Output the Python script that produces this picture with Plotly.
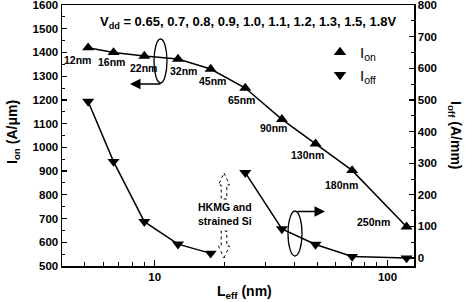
import math
import plotly.graph_objects as go

# ---- data ----
leff_nm = [5.18, 6.66, 9.03, 12.6, 17.4, 24.5, 35.2, 49.1, 70.5, 120.8]
node_labels = ["12nm", "16nm", "22nm", "32nm", "45nm", "65nm", "90nm", "130nm", "180nm", "250nm"]
ion = [1420, 1400, 1385, 1372, 1330, 1250, 1118, 1015, 903, 665]
ioff_low = [495, 305, 115, 44, 15]        # first five nodes (12-45nm)
ioff_high = [270, 92, 43, 5, 0]           # last five nodes (65-250nm)
vdd_list = ["0.65", "0.7", "0.8", "0.9", "1.0", "1.1", "1.2", "1.3", "1.5", "1.8"]
x_ticks = [10, 100]
x_minor = [5, 6, 7, 8, 9, 20, 30, 40, 50, 60, 70, 80, 90]
y_left_ticks = list(range(500, 1601, 100))
y_right_ticks = list(range(0, 801, 100))

# ---- layout geometry (pixels) ----
W, H = 466, 302
L, R, T, B = 62, 52, 5, 36
PW, PH = W - L - R, H - T - B


def fx(px):
    return (px - L) / PW


def fy(py):
    return (H - B - py) / PH


FONT = "Liberation Sans, Arial, Helvetica, sans-serif"
MS = 10.5

fig = go.Figure()

# Ion curve
fig.add_trace(go.Scatter(x=leff_nm, y=ion, mode="lines+markers",
                         line=dict(color="black", width=1.5),
                         marker=dict(symbol="triangle-up", size=MS, color="black"),
                         showlegend=False, yaxis="y"))
# Ioff curves (two segments)
fig.add_trace(go.Scatter(x=leff_nm[:5], y=ioff_low, mode="lines+markers",
                         line=dict(color="black", width=1.5),
                         marker=dict(symbol="triangle-down", size=MS, color="black"),
                         showlegend=False, yaxis="y2"))
fig.add_trace(go.Scatter(x=leff_nm[5:], y=ioff_high, mode="lines+markers",
                         line=dict(color="black", width=1.5),
                         marker=dict(symbol="triangle-down", size=MS, color="black"),
                         showlegend=False, yaxis="y2"))
# legend entries
fig.add_trace(go.Scatter(x=[None], y=[None], mode="markers", name="I<sub>on</sub>",
                         marker=dict(symbol="triangle-up", size=11, color="black")))
fig.add_trace(go.Scatter(x=[None], y=[None], mode="markers", name="I<sub>off</sub>",
                         marker=dict(symbol="triangle-down", size=11, color="black")))

tickfont = dict(family=FONT, size=11.5, color="black", weight=700)

fig.update_layout(
    width=W, height=H,
    margin=dict(l=L, r=R, t=T, b=B, pad=0),
    paper_bgcolor="white", plot_bgcolor="white",
    font=dict(family=FONT, color="black"),
    showlegend=True,
    legend=dict(x=fx(320), y=fy(36), xanchor="left", yanchor="top",
                bgcolor="rgba(0,0,0,0)", font=dict(family=FONT, size=15, color="black"),
                itemwidth=30, tracegroupgap=0),
    xaxis=dict(type="log", range=[math.log10(4), math.log10(130)],
               tickvals=x_ticks, ticktext=[str(v) for v in x_ticks],
               ticks="inside", ticklen=6, tickwidth=1.2, tickcolor="black",
               minor=dict(tickvals=x_minor, ticks="inside", ticklen=4, tickwidth=1, tickcolor="black"),
               showline=True, linecolor="black", linewidth=1.5, mirror=True,
               showgrid=False, zeroline=False, tickfont=tickfont, automargin=False,
               ticklabeloverflow="allow"),
    yaxis=dict(range=[500, 1600], tickvals=y_left_ticks,
               ticks="inside", ticklen=5, tickwidth=1.2, tickcolor="black",
               minor=dict(dtick=50, ticks="inside", ticklen=3, tickwidth=1, tickcolor="black"),
               showline=True, linecolor="black", linewidth=1.5,
               showgrid=False, zeroline=False, tickfont=tickfont, automargin=False,
               ticklabeloverflow="allow"),
    yaxis2=dict(range=[-25, 800], tickvals=y_right_ticks, overlaying="y", side="right",
                ticks="inside", ticklen=5, tickwidth=1.2, tickcolor="black",
                minor=dict(dtick=50, ticks="inside", ticklen=3, tickwidth=1, tickcolor="black"),
                showline=True, linecolor="black", linewidth=1.5,
                showgrid=False, zeroline=False, tickfont=tickfont, automargin=False,
                ticklabeloverflow="allow"),
)

ann = []
# axis titles
ann.append(dict(xref="paper", yref="paper", x=fx(13), y=fy(132), textangle=-90,
                text="<b>I<sub>on</sub> (A/μm)</b>", showarrow=False,
                font=dict(family=FONT, size=14), xanchor="center", yanchor="middle"))
ann.append(dict(xref="paper", yref="paper", x=fx(455), y=fy(135), textangle=90,
                text="<b>I<sub>off</sub> (A/mm)</b>", showarrow=False,
                font=dict(family=FONT, size=14), xanchor="center", yanchor="middle"))
ann.append(dict(xref="paper", yref="paper", x=fx(244), y=fy(292),
                text="<b>L<sub>eff</sub> (nm)</b>", showarrow=False,
                font=dict(family=FONT, size=14), xanchor="center", yanchor="middle"))
# Vdd text
ann.append(dict(xref="paper", yref="paper", x=fx(248), y=fy(22),
                text="<b>V<sub>dd</sub> = " + ", ".join(vdd_list) + "V</b>", showarrow=False,
                font=dict(family=FONT, size=13), xanchor="center", yanchor="middle"))
# node labels
label_pos = [(77, 60), (111, 62), (143, 68), (183, 71), (212, 81),
             (241, 100), (273, 128), (307, 155), (341, 185), (373, 222)]
for lab, (px, py) in zip(node_labels, label_pos):
    ann.append(dict(xref="paper", yref="paper", x=fx(px), y=fy(py), text="<b>" + lab + "</b>",
                    showarrow=False, font=dict(family=FONT, size=10.5),
                    xanchor="center", yanchor="middle"))
# HKMG text
ann.append(dict(xref="paper", yref="paper", x=fx(225), y=fy(214),
                text="<b>HKMG and<br>strained Si</b>", showarrow=False,
                font=dict(family=FONT, size=10.5), xanchor="center", yanchor="middle"))
# arrows from ellipses
ann.append(dict(xref="paper", yref="paper", x=fx(130), y=fy(84), ax=32, ay=0,
                text="", showarrow=True, arrowhead=2, arrowsize=1.4, arrowwidth=1.5,
                arrowcolor="black"))
ann.append(dict(xref="paper", yref="paper", x=fx(325), y=fy(211.5), ax=-29, ay=0,
                text="", showarrow=True, arrowhead=2, arrowsize=1.4, arrowwidth=1.5,
                arrowcolor="black"))
fig.update_layout(annotations=ann)

shapes = []
shapes.append(dict(type="circle", xref="paper", yref="paper",
                   x0=fx(154), x1=fx(167), y0=fy(83), y1=fy(39),
                   line=dict(color="black", width=1.3)))
shapes.append(dict(type="circle", xref="paper", yref="paper",
                   x0=fx(288), x1=fx(302), y0=fy(256), y1=fy(211),
                   line=dict(color="black", width=1.3)))


def block_arrow(cx, tip, base, up=True):
    hw, sw, hl = 5.5, 2.8, 12
    d = -1 if up else 1
    # tip at 'tip', shaft end at 'base'
    hb = tip - d * hl
    pts = [(cx, tip), (cx + hw, hb), (cx + sw, hb), (cx + sw, base),
           (cx - sw, base), (cx - sw, hb), (cx - hw, hb)]
    return "M " + " L ".join(f"{fx(a):.5f},{fy(b):.5f}" for a, b in pts) + " Z"


shapes.append(dict(type="path", xref="paper", yref="paper",
                   path=block_arrow(224, 173, 199, up=True),
                   line=dict(color="black", width=1, dash="dot")))
shapes.append(dict(type="path", xref="paper", yref="paper",
                   path=block_arrow(224, 258, 231, up=False),
                   line=dict(color="black", width=1, dash="dot")))
fig.update_layout(shapes=shapes)

fig.write_html("out.html", config={"displayModeBar": False, "staticPlot": True},
               post_script="document.body.style.margin='0px';document.body.style.overflow='hidden';")
